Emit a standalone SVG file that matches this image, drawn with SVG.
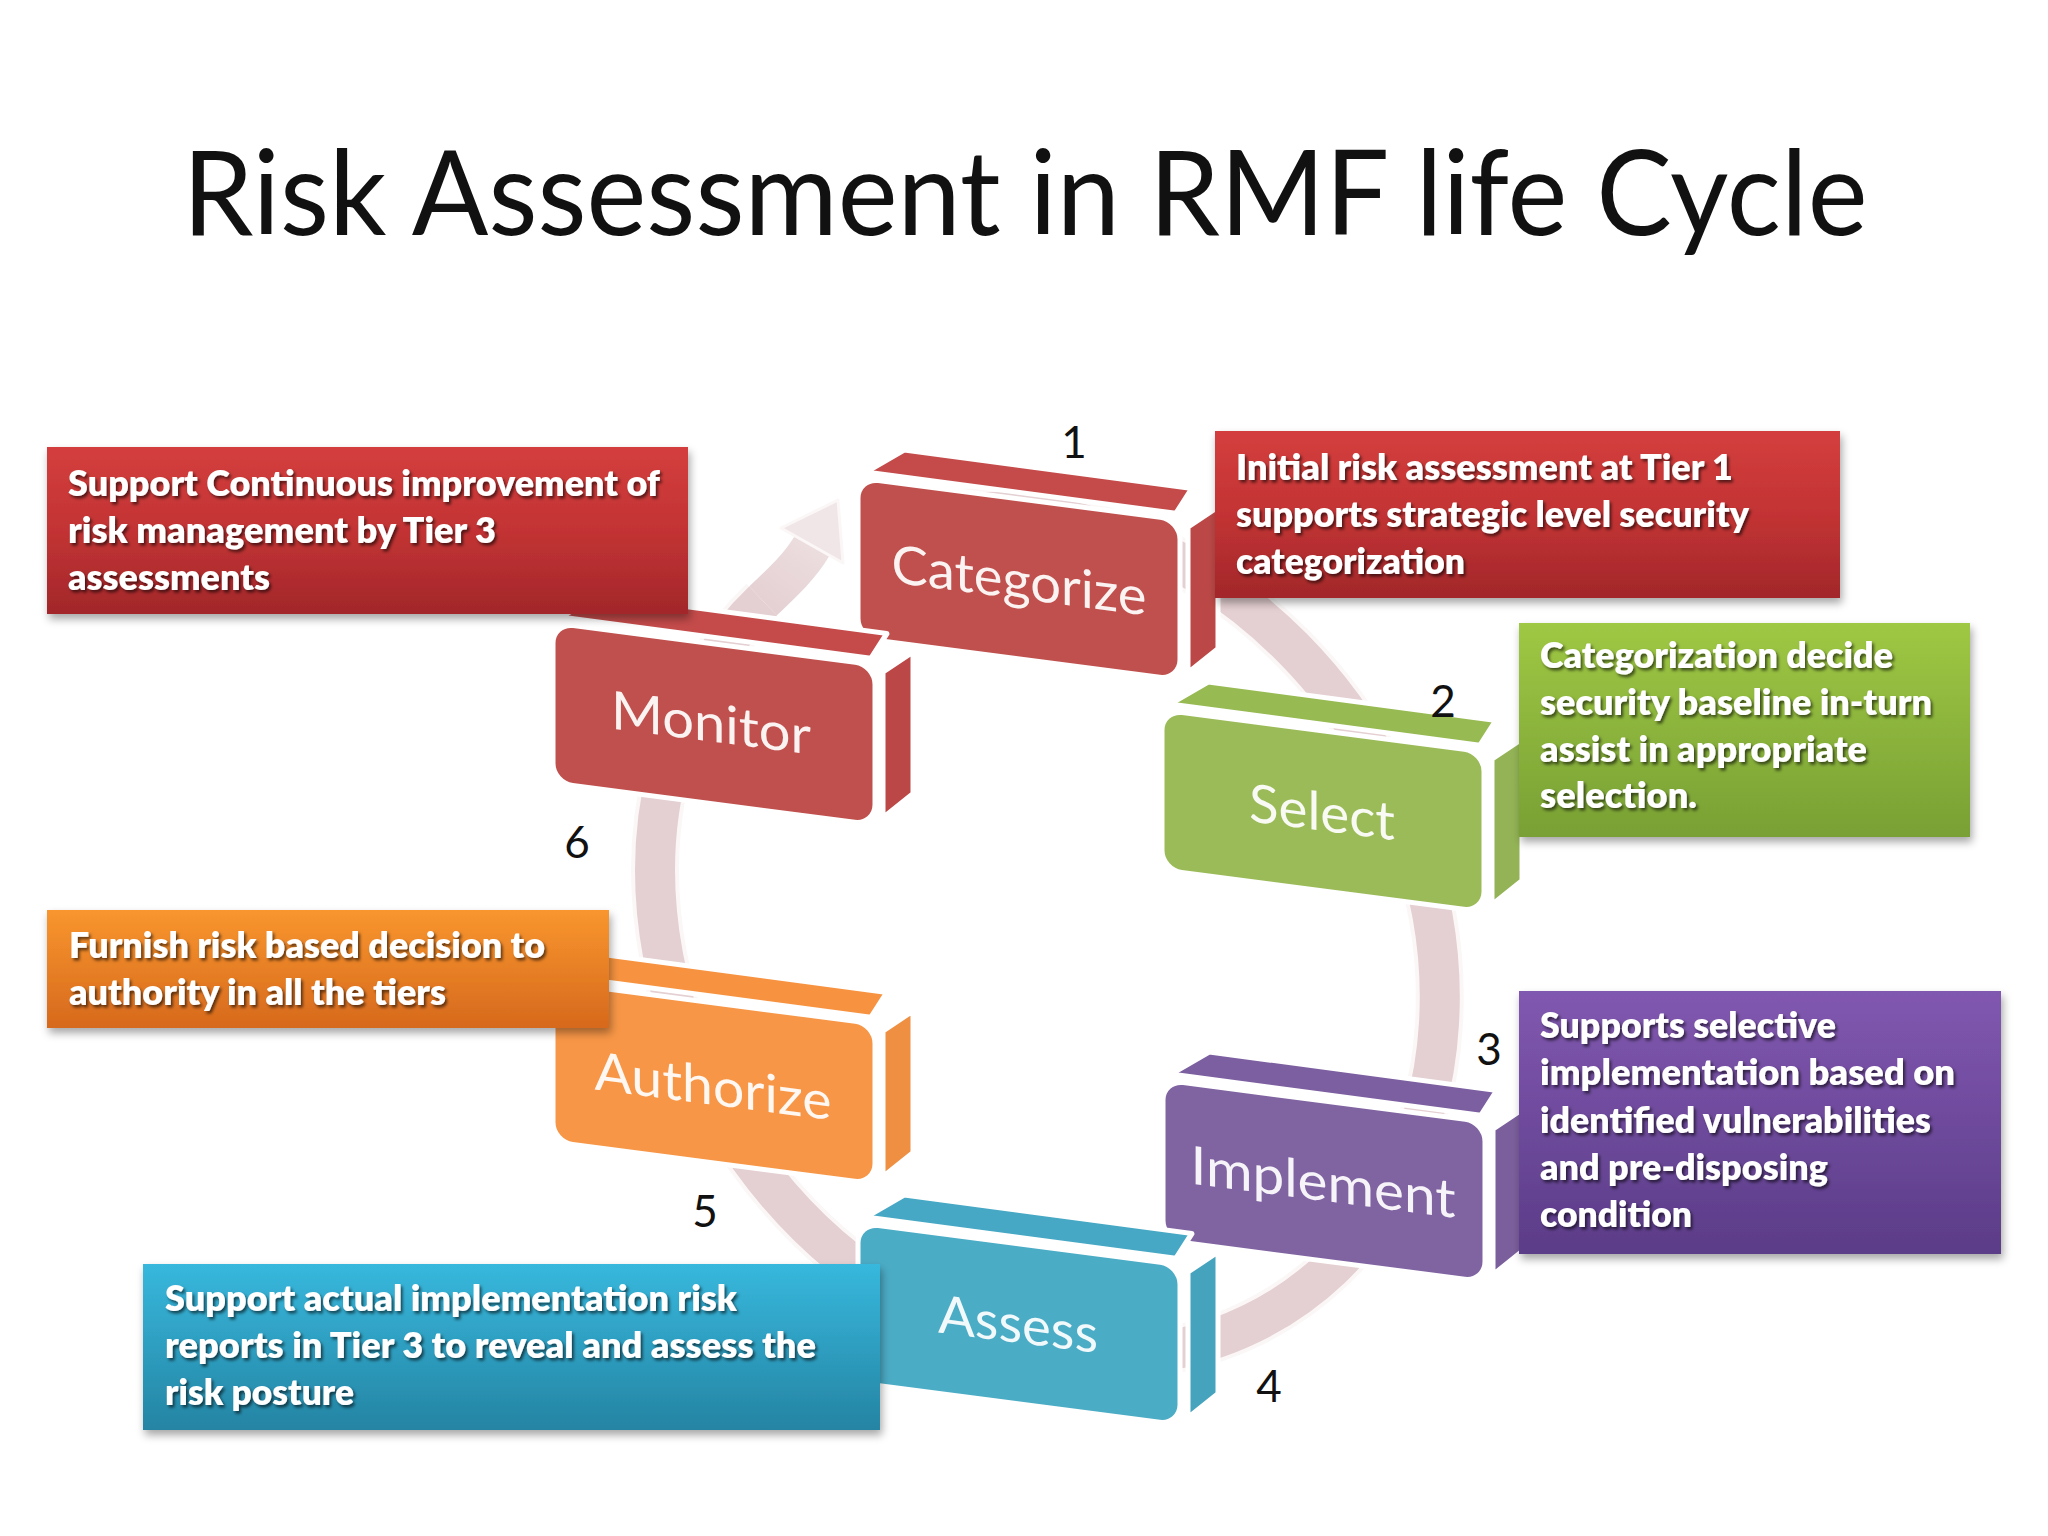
<svg xmlns="http://www.w3.org/2000/svg" width="2048" height="1536" viewBox="0 0 2048 1536">
<defs>
<style>
.title{font-family:Lato,'Open Sans','Liberation Sans',sans-serif;font-size:118px;fill:#111}
.num{font-family:Lato,'Liberation Sans',sans-serif;font-size:44px;fill:#111;text-anchor:middle}
.lbl{font-family:Lato,'Liberation Sans',sans-serif;font-size:53px;fill:#fff;fill-opacity:.93;text-anchor:middle}
.ct{font-family:Lato,'Liberation Sans',sans-serif;font-weight:800;font-size:36px;fill:#fff}
.face{stroke:#fff;stroke-width:5;stroke-linejoin:round}
.ringw{fill:none;stroke:#fbf7f7;stroke-width:48}
.ring{fill:none;stroke:#e4cfd2;stroke-width:40}
</style>
<linearGradient id="gRed" x1="0" y1="0" x2="0" y2="1"><stop offset="0" stop-color="#d43e3d"/><stop offset=".5" stop-color="#c33334"/><stop offset="1" stop-color="#a2272a"/></linearGradient>
<linearGradient id="gGreen" x1="0" y1="0" x2="0" y2="1"><stop offset="0" stop-color="#9fc844"/><stop offset="1" stop-color="#78a034"/></linearGradient>
<linearGradient id="gPurple" x1="0" y1="0" x2="0" y2="1"><stop offset="0" stop-color="#8158b0"/><stop offset="1" stop-color="#5b3c88"/></linearGradient>
<linearGradient id="gOrange" x1="0" y1="0" x2="0" y2="1"><stop offset="0" stop-color="#f9962e"/><stop offset="1" stop-color="#d6691d"/></linearGradient>
<linearGradient id="gBlue" x1="0" y1="0" x2="0" y2="1"><stop offset="0" stop-color="#37b8dd"/><stop offset="1" stop-color="#2584a3"/></linearGradient>
<linearGradient id="gTip" gradientUnits="userSpaceOnUse" x1="760" y1="610" x2="840" y2="500"><stop offset="0" stop-color="#e4cfd2"/><stop offset="1" stop-color="#f1e6e7"/></linearGradient>
<filter id="ts" x="-5%" y="-30%" width="110%" height="170%"><feDropShadow dx="2" dy="2.5" stdDeviation="1.5" flood-color="#000" flood-opacity="0.6"/></filter>
<filter id="bs" x="-5%" y="-10%" width="112%" height="130%"><feDropShadow dx="2" dy="5" stdDeviation="4" flood-color="#000" flood-opacity="0.35"/></filter>
</defs>
<rect width="2048" height="1536" fill="#fff"/>
<text class="title" x="1025" y="235" text-anchor="middle" textLength="1685" lengthAdjust="spacingAndGlyphs">Risk Assessment in RMF life Cycle</text>

<g id="connectors">
<path class="ringw" d="M937,516 A440 372 58 1 1 763,601"/>
<path class="ring" d="M937,516 A440 372 58 1 1 763,601"/>
<path d="M763,601 C785,580 800,566 812,546" fill="none" stroke="url(#gTip)" stroke-width="40"/>
<polygon points="781,528 838,500 843,563" fill="#f1e6e7" stroke="#fbf7f7" stroke-width="3" stroke-linejoin="round"/>
</g>

<g id="node-categorize" transform="translate(858,478) skewY(7.4)">
<path class="face" d="M8,-7 L46,-34 L334,-33 L318,-6 Z" fill="#c44b4a"/>
<path class="face" d="M330,6 L360,-18 L360,124 L330,152 Z" fill="#bb4846"/>
<rect class="face" x="0" y="0" width="322" height="160" rx="20" fill="#c0504d"/>
<text class="lbl" x="161" y="100" textLength="255" lengthAdjust="spacingAndGlyphs">Categorize</text>
</g>
<g id="node-select" transform="translate(1162,710) skewY(7.4)">
<path class="face" d="M8,-7 L46,-34 L334,-33 L318,-6 Z" fill="#97ba52"/>
<path class="face" d="M330,6 L360,-18 L360,124 L330,152 Z" fill="#93b356"/>
<rect class="face" x="0" y="0" width="322" height="160" rx="20" fill="#9bbb59"/>
<text class="lbl" x="160" y="100" textLength="146" lengthAdjust="spacingAndGlyphs">Select</text>
</g>
<g id="node-implement" transform="translate(1163,1080) skewY(7.4)">
<path class="face" d="M8,-7 L46,-34 L334,-33 L318,-6 Z" fill="#7c5fa0"/>
<path class="face" d="M330,6 L360,-18 L360,124 L330,152 Z" fill="#7a5f9c"/>
<rect class="face" x="0" y="0" width="322" height="160" rx="20" fill="#8064a2"/>
<text class="lbl" x="160" y="100" textLength="265" lengthAdjust="spacingAndGlyphs">Implement</text>
</g>
<g id="node-assess" transform="translate(858,1223) skewY(7.4)">
<path class="face" d="M8,-7 L46,-34 L334,-33 L318,-6 Z" fill="#46a8c4"/>
<path class="face" d="M330,6 L360,-18 L360,124 L330,152 Z" fill="#45a3bd"/>
<rect class="face" x="0" y="0" width="322" height="160" rx="20" fill="#4bacc6"/>
<text class="lbl" x="160" y="99" textLength="160" lengthAdjust="spacingAndGlyphs">Assess</text>
</g>
<g id="node-authorize" transform="translate(553,982) skewY(7.4)">
<path class="face" d="M8,-7 L46,-34 L334,-33 L318,-6 Z" fill="#f79340"/>
<path class="face" d="M330,6 L360,-18 L360,124 L330,152 Z" fill="#ee8f42"/>
<rect class="face" x="0" y="0" width="322" height="160" rx="20" fill="#f79646"/>
<text class="lbl" x="160" y="102" textLength="237" lengthAdjust="spacingAndGlyphs">Authorize</text>
</g>
<g id="node-monitor" transform="translate(553,623) skewY(7.4)">
<path class="face" d="M8,-7 L46,-34 L334,-33 L318,-6 Z" fill="#c44b4a"/>
<path class="face" d="M330,6 L360,-18 L360,124 L330,152 Z" fill="#bb4846"/>
<rect class="face" x="0" y="0" width="322" height="160" rx="20" fill="#c0504d"/>
<text class="lbl" x="158" y="98" textLength="200" lengthAdjust="spacingAndGlyphs">Monitor</text>
</g>

<g id="note-monitor">
<rect x="47" y="447" width="641" height="167" fill="url(#gRed)" filter="url(#bs)"/>
<g class="ct" filter="url(#ts)">
<text x="68" y="496" textLength="592" lengthAdjust="spacingAndGlyphs">Support Continuous improvement of</text>
<text x="68" y="543" textLength="428" lengthAdjust="spacingAndGlyphs">risk management by Tier 3</text>
<text x="68" y="590" textLength="202" lengthAdjust="spacingAndGlyphs">assessments</text>
</g>
</g>
<g id="note-categorize">
<rect x="1215" y="431" width="625" height="167" fill="url(#gRed)" filter="url(#bs)"/>
<g class="ct" filter="url(#ts)">
<text x="1236" y="480" textLength="497" lengthAdjust="spacingAndGlyphs">Initial risk assessment at Tier 1</text>
<text x="1236" y="527" textLength="513" lengthAdjust="spacingAndGlyphs">supports strategic level security</text>
<text x="1236" y="574" textLength="229" lengthAdjust="spacingAndGlyphs">categorization</text>
</g>
</g>
<g id="note-select">
<rect x="1519" y="623" width="451" height="214" fill="url(#gGreen)" filter="url(#bs)"/>
<g class="ct" filter="url(#ts)">
<text x="1540" y="668" textLength="353" lengthAdjust="spacingAndGlyphs">Categorization decide</text>
<text x="1540" y="715" textLength="392" lengthAdjust="spacingAndGlyphs">security baseline in-turn</text>
<text x="1540" y="762" textLength="327" lengthAdjust="spacingAndGlyphs">assist in appropriate</text>
<text x="1540" y="808" textLength="157" lengthAdjust="spacingAndGlyphs">selection.</text>
</g>
</g>
<g id="note-implement">
<rect x="1519" y="991" width="482" height="263" fill="url(#gPurple)" filter="url(#bs)"/>
<g class="ct" filter="url(#ts)">
<text x="1540" y="1038" textLength="296" lengthAdjust="spacingAndGlyphs">Supports selective</text>
<text x="1540" y="1085" textLength="415" lengthAdjust="spacingAndGlyphs">implementation based on</text>
<text x="1540" y="1133" textLength="391" lengthAdjust="spacingAndGlyphs">identified vulnerabilities</text>
<text x="1540" y="1180" textLength="288" lengthAdjust="spacingAndGlyphs">and pre-disposing</text>
<text x="1540" y="1227" textLength="152" lengthAdjust="spacingAndGlyphs">condition</text>
</g>
</g>
<g id="note-authorize">
<rect x="47" y="910" width="562" height="118" fill="url(#gOrange)" filter="url(#bs)"/>
<g class="ct" filter="url(#ts)">
<text x="69" y="958" textLength="476" lengthAdjust="spacingAndGlyphs">Furnish risk based decision to</text>
<text x="69" y="1005" textLength="377" lengthAdjust="spacingAndGlyphs">authority in all the tiers</text>
</g>
</g>
<g id="note-assess">
<rect x="143" y="1264" width="737" height="166" fill="url(#gBlue)" filter="url(#bs)"/>
<g class="ct" filter="url(#ts)">
<text x="165" y="1311" textLength="572" lengthAdjust="spacingAndGlyphs">Support actual implementation risk</text>
<text x="165" y="1358" textLength="651" lengthAdjust="spacingAndGlyphs">reports in Tier 3 to reveal and assess the</text>
<text x="165" y="1405" textLength="189" lengthAdjust="spacingAndGlyphs">risk posture</text>
</g>
</g>

<g id="step-numbers">
<text class="num" x="1074" y="458">1</text>
<text class="num" x="1443" y="717">2</text>
<text class="num" x="1489" y="1065">3</text>
<text class="num" x="1269" y="1402">4</text>
<text class="num" x="705" y="1227">5</text>
<text class="num" x="577" y="858">6</text>
</g>
</svg>
